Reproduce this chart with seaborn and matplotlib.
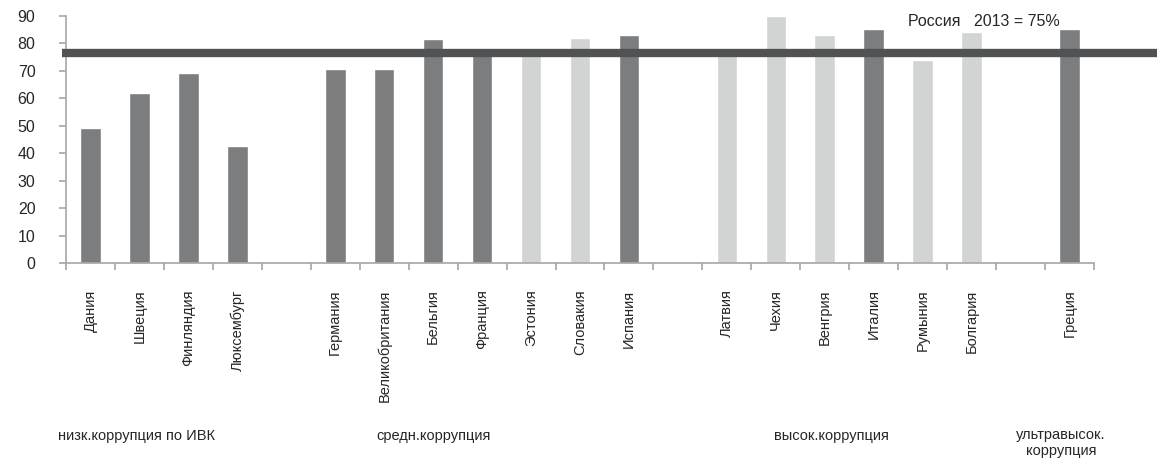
import numpy as np
import pandas as pd
import matplotlib
matplotlib.use('Agg')
import matplotlib.pyplot as plt
import seaborn as sns

# slots, blanks separate the corruption groups
countries = ['Дания', 'Швеция', 'Финляндия', 'Люксембург', ' ',
             'Германия', 'Великобритания', 'Бельгия', 'Франция', 'Эстония', 'Словакия', 'Испания', '  ',
             'Латвия', 'Чехия', 'Венгрия', 'Италия', 'Румыния', 'Болгария', '   ',
             'Греция']
values = [49, 62, 69, 42.5, np.nan,
          70.7, 70.7, 81.6, 76, 76, 81.8, 82.9, np.nan,
          76, 89.8, 82.9, 85, 73.8, 84, np.nan,
          85]
bloc = ['old', 'old', 'old', 'old', 'old',
        'old', 'old', 'old', 'old', 'new', 'new', 'old', 'old',
        'new', 'new', 'new', 'old', 'new', 'new', 'old',
        'old']
russia_level = 76.5
groups = ['низк.коррупция по ИВК', 'средн.коррупция', 'высок.коррупция', 'ультравысок.\nкоррупция']

sns.set_style('white')
plt.rcParams['font.family'] = ['Liberation Sans Narrow', 'Liberation Sans', 'DejaVu Sans']

df = pd.DataFrame({'country': countries, 'value': values, 'bloc': bloc})

fig = plt.figure(figsize=(11.57, 4.61), dpi=100)
ax = fig.add_axes([66 / 1157, 1 - 263 / 461, (1094 - 66) / 1157, (263 - 15.7) / 461])

sns.barplot(data=df, x='country', y='value', hue='bloc', order=countries,
            palette={'old': '#7a7d80', 'new': '#d2d3d3'}, dodge=False,
            width=0.42, legend=False, ax=ax, errorbar=None)

# Russia 2013 reference line, runs past the right end of the axis
ax.axhline(russia_level, xmin=-0.004, xmax=1.061, color='#505254', lw=6,
           solid_capstyle='butt', clip_on=False, zorder=5)
ax.text(0.967, 0.975, 'Россия   2013 = 75%', transform=ax.transAxes, ha='right', va='center', fontsize=11.5)

ax.set_xlim(-0.5, len(countries) - 0.5)
ax.set_ylim(0, 90)
ax.set_yticks(range(0, 91, 10))
ax.set_xlabel('')
ax.set_ylabel('')

for s in ['top', 'right']:
    ax.spines[s].set_visible(False)
for s in ['left', 'bottom']:
    ax.spines[s].set_color('#a6a6a6')
    ax.spines[s].set_linewidth(1.2)

ax.set_xticks(range(len(countries)))
ax.set_xticklabels(countries, rotation=90, va='top')
ax.set_xticks(np.arange(-0.5, len(countries)), minor=True)
ax.tick_params(axis='x', which='major', length=0, pad=19, labelsize=10.5)
ax.tick_params(axis='x', which='minor', length=5, width=1.2, color='#a6a6a6', direction='out', bottom=True)
ax.tick_params(axis='y', length=5, width=1.2, color='#a6a6a6', left=True, labelsize=11.5, pad=17)

fig.text(58 / 1157, 1 - 436 / 461, groups[0], ha='left', va='center', fontsize=10.5)
fig.text(434 / 1157, 1 - 436 / 461, groups[1], ha='center', va='center', fontsize=10.5)
fig.text(831 / 1157, 1 - 436 / 461, groups[2], ha='center', va='center', fontsize=10.5)
fig.text(1061 / 1157, 1 - 443 / 461, groups[3], ha='center', va='center', fontsize=10.5, linespacing=1.2)

fig.savefig('out.png', dpi=100)
